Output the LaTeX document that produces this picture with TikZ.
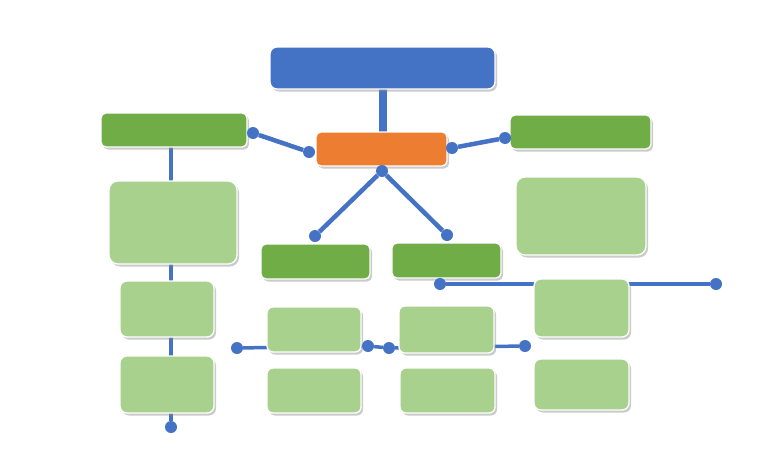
\documentclass[tikz,border=0pt]{standalone}
\usetikzlibrary{shadows,backgrounds}
\definecolor{cblue}{HTML}{4472C4}
\definecolor{corange}{HTML}{ED7D31}
\definecolor{cgreen}{HTML}{70AD47}
\definecolor{clight}{HTML}{A9D18E}
\begin{document}
\begin{tikzpicture}[x=1pt,y=-1pt,
  box/.style={draw=white, line width=1.3pt, inner sep=0pt, outer sep=0pt, anchor=north west,
    rounded corners=5pt, drop shadow={shadow xshift=2pt, shadow yshift=-2.5pt, fill=black!45, opacity=0.45}},
  bigbox/.style={box, rounded corners=9pt},
  dot/.style={circle, fill=cblue, inner sep=0pt, minimum size=12pt},
  conn/.style={draw=cblue, line width=4.5pt},
  thinconn/.style={draw=cblue, line width=3.5pt}]
\useasboundingbox (0,0) rectangle (768,466);
% boxes
\node[box, fill=cblue, minimum width=225pt, minimum height=42pt, rounded corners=7pt] (top) at (270,47) {};
\node[box, fill=corange, minimum width=131pt, minimum height=34pt] (mid) at (316,132) {};
\node[box, fill=cgreen, minimum width=146pt, minimum height=34pt] (lg) at (101,113) {};
\node[box, fill=cgreen, minimum width=141pt, minimum height=34pt] (rg) at (510,115) {};
\node[box, fill=cgreen, minimum width=109pt, minimum height=35pt] (mgl) at (261,244) {};
\node[box, fill=cgreen, minimum width=109pt, minimum height=35pt] (mgr) at (392,243) {};
\node[bigbox, fill=clight, minimum width=128pt, minimum height=83pt] (l1) at (109,181) {};
\node[box, fill=clight, minimum width=94pt, minimum height=56pt, rounded corners=7pt] (l2) at (120,281) {};
\node[box, fill=clight, minimum width=94pt, minimum height=57pt, rounded corners=7pt] (l3) at (120,356) {};
\node[box, fill=clight, minimum width=94pt, minimum height=45pt, rounded corners=6pt] (c1) at (267,307) {};
\node[box, fill=clight, minimum width=94pt, minimum height=45pt, rounded corners=6pt] (c2) at (267,368) {};
\node[box, fill=clight, minimum width=95pt, minimum height=47pt, rounded corners=6pt] (c3) at (399,306) {};
\node[box, fill=clight, minimum width=95pt, minimum height=45pt, rounded corners=6pt] (c4) at (400,368) {};
\node[bigbox, fill=clight, minimum width=130pt, minimum height=78pt] (r1) at (516,177) {};
\node[box, fill=clight, minimum width=95pt, minimum height=58pt, rounded corners=7pt] (r2) at (534,279) {};
\node[box, fill=clight, minimum width=95pt, minimum height=51pt, rounded corners=7pt] (r3) at (534,359) {};
% dots
\node[dot] (d1) at (253,133) {};
\node[dot] (d2) at (309,152) {};
\node[dot] (d3) at (452,148) {};
\node[dot] (d4) at (505,138) {};
\node[dot] (d5) at (382,171) {};
\node[dot] (d6) at (315,236) {};
\node[dot] (d7) at (447,235) {};
\node[dot] (d8) at (171,427) {};
\node[dot] (d9) at (440,284) {};
\node[dot] (d10) at (716,284) {};
\node[dot] (d11) at (237,348) {};
\node[dot] (d12) at (368,346) {};
\node[dot] (d13) at (389,348) {};
\node[dot] (d14) at (525,346) {};
\begin{scope}[on background layer]
\draw[draw=cblue, line width=8pt] (top.south -| 383,0) -- (mid.north -| 383,0);
\draw[conn] (d1) -- (d2);
\draw[conn] (d3) -- (d4);
\draw[conn] (d5) -- (d6);
\draw[conn] (d5) -- (d7);
\draw[thinconn] (lg.south -| d8) -- (d8);
\draw[thinconn] (d9) -- (d10);
\draw[thinconn] (d11) -- (d12) -- (d13) -- (d14);
\end{scope}
\end{tikzpicture}
\end{document}
